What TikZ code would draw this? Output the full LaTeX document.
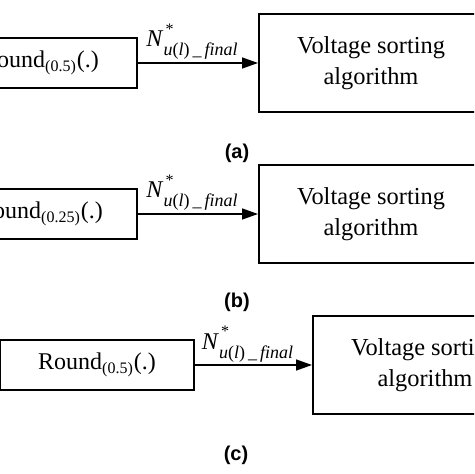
\documentclass[tikz,border=0pt]{standalone}
\usepackage{fontspec}
\setmainfont{Liberation Serif}
\newfontfamily\capfont{Liberation Sans}
\usetikzlibrary{arrows.meta}

\tikzset{
  roundbox/.style={draw, line width=1pt, minimum width=97pt, minimum height=25pt, inner sep=0pt, font=\fontsize{12}{15}\selectfont},
  sortbox/.style={draw, line width=1pt, minimum width=112pt, minimum height=49pt, align=center, font=\fontsize{12.2}{15.5}\selectfont},
  flow/.style={-{Triangle[length=8pt,width=5.5pt]}, line width=0.7pt},
  flowlabel/.style={midway, anchor=base, inner sep=0pt, xshift=-3pt, yshift=8pt, font=\fontsize{12}{13}\selectfont},
  caption/.style={font=\capfont\bfseries\fontsize{10}{12}\selectfont}
}
% N* with subscript u(l)_final, set as text
\newcommand{\Nfinal}{\textit{N}\rlap{\hspace{1pt}\raisebox{6.2pt}{\fontsize{8}{8}\selectfont *}}\raisebox{-4.5pt}{\fontsize{9}{9}\selectfont\textit{u}(\textit{l})\,\_\,\textit{final}}}

\begin{document}
\begin{tikzpicture}[x=0.5pt, y=-0.5pt]
    \useasboundingbox (0,0) rectangle (474,474);
    \clip (0,0) rectangle (474,474);
    \fill[white] (0,0) rectangle (474,474);

    % (a)
    \node[roundbox] (rnda) at (40,63) {Round\textsubscript{(0.5)}(.)};
    \node[sortbox] (sorta) at (371,63) {Voltage sorting\\algorithm};
    \draw[flow] (rnda) -- node[flowlabel] {\Nfinal} (sorta);
    \node[caption] (capa) at (237,153) {(a)};

    % (b)
    \node[roundbox] (rndb) at (40,214) {Round\textsubscript{(0.25)}(.)};
    \node[sortbox] (sortb) at (371,214) {Voltage sorting\\algorithm};
    \draw[flow] (rndb) -- node[flowlabel] {\Nfinal} (sortb);
    \node[caption] (capb) at (237,302) {(b)};

    % (c)
    \node[roundbox] (rndc) at (97,365) {Round\textsubscript{(0.5)}(.)};
    \node[sortbox] (sortc) at (425,365) {Voltage sorting\\algorithm};
    \draw[flow] (rndc) -- node[flowlabel] {\Nfinal} (sortc);
    \node[caption] (capc) at (236,455) {(c)};
\end{tikzpicture}
\end{document}
